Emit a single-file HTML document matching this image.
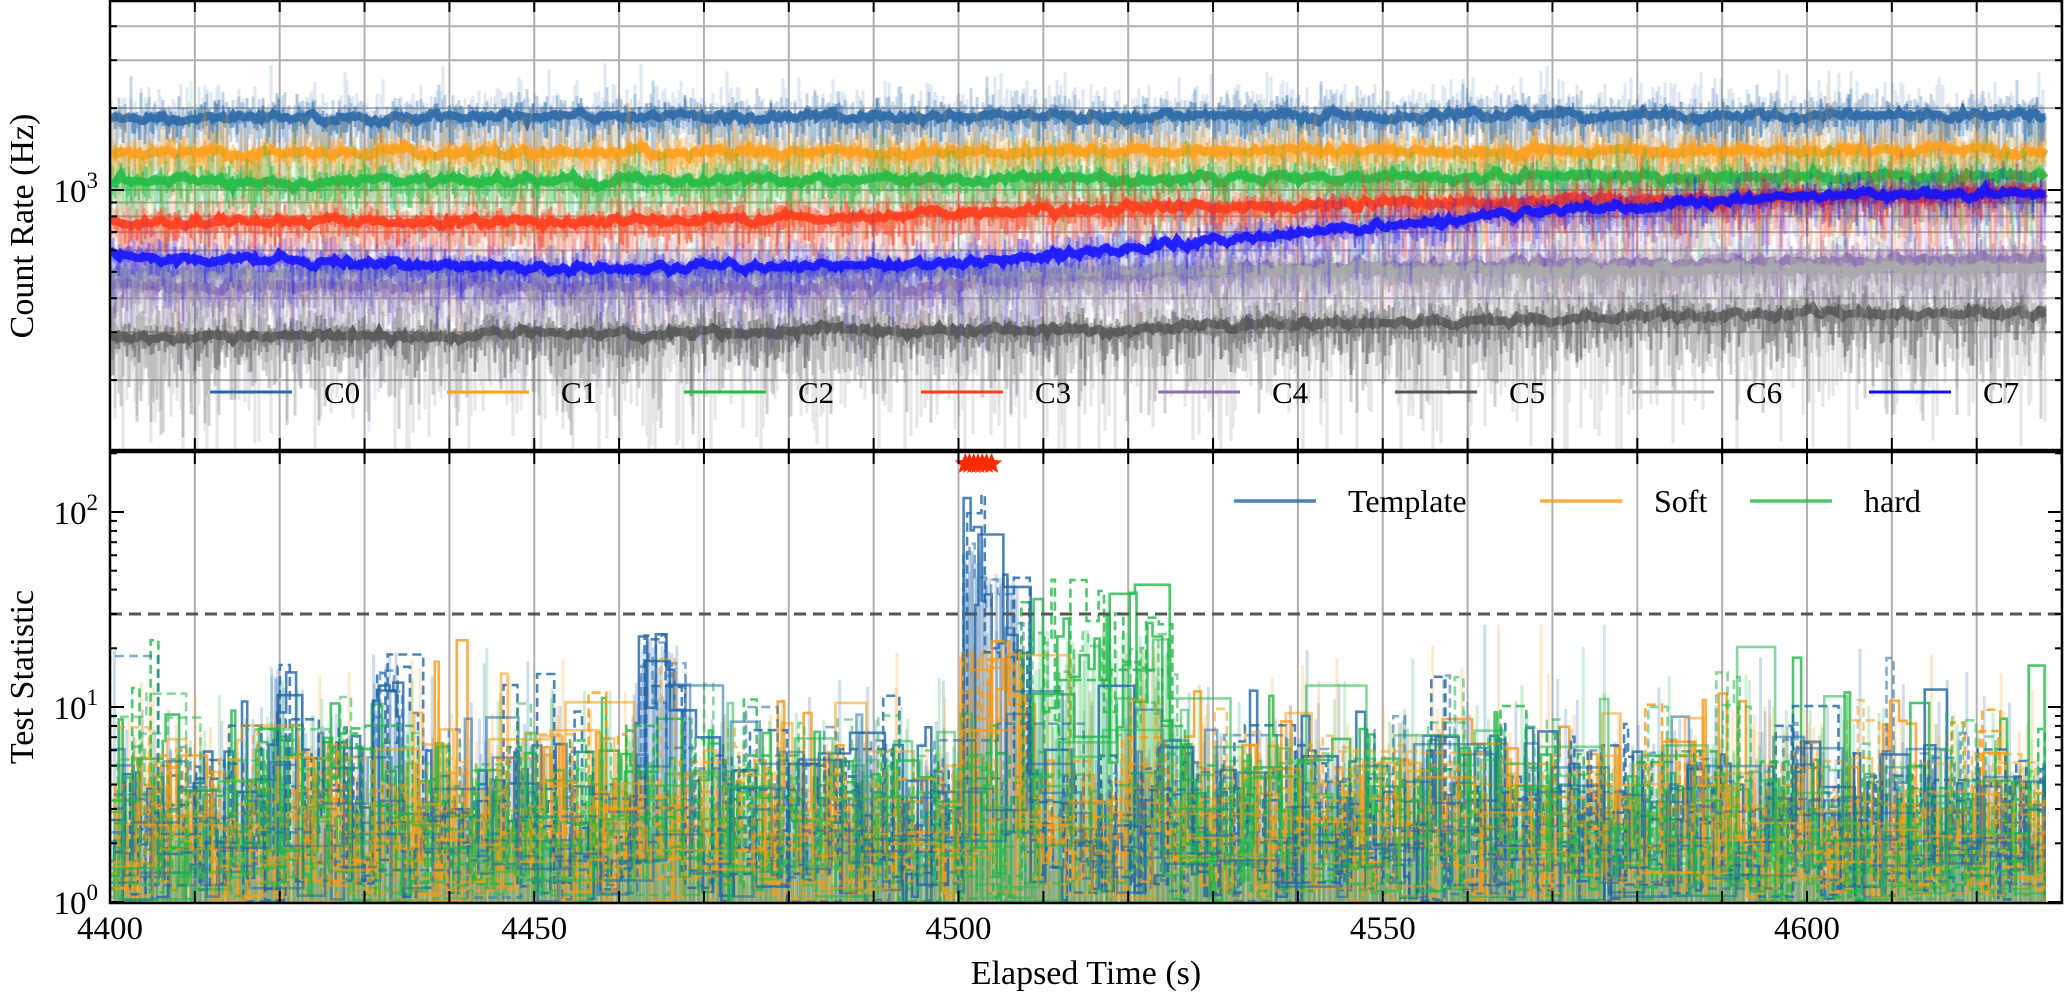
<!DOCTYPE html>
<html><head><meta charset="utf-8"><style>
html,body{margin:0;padding:0;background:#fff;width:2064px;height:997px;overflow:hidden}
svg{display:block}
svg text{font-family:"Liberation Serif","Times New Roman",Times,"DejaVu Serif",serif}
</style></head><body>
<svg id="s" width="2064" height="997" viewBox="0 0 2064 997" xmlns="http://www.w3.org/2000/svg">
<defs>
<clipPath id="ct"><rect x="110" y="1" width="1952" height="449"/></clipPath>
<clipPath id="cb"><rect x="110" y="452" width="1952" height="451"/></clipPath>
</defs>
<g id="g"></g>
</svg>
<script>
(function(){
let seed=12345;
function R(){seed|=0;seed=seed+0x6D2B79F5|0;let t=Math.imul(seed^seed>>>15,1|seed);t=t+Math.imul(t^t>>>7,61|t)^t;return((t^t>>>14)>>>0)/4294967296;}
function N(){let u=R()||1e-9,v=R();return Math.sqrt(-2*Math.log(u))*Math.cos(2*Math.PI*v);}
const F=`style="font-family:'Liberation Serif','Times New Roman',Times,'DejaVu Serif',serif"`;
const X=t=>110+(t-4400)*8.485;
const YT=v=>190-272*Math.log10(v/1000);
const YB=v=>902-195*Math.log10(v);
let o=[];
const L=(x1,y1,x2,y2,c,w,extra)=>o.push(`<line x1="${x1}" y1="${y1}" x2="${x2}" y2="${y2}" stroke="${c}" stroke-width="${w}" ${extra||''}/>`);
o.push('<g clip-path="url(#ct)">');
const hv=[200,300,400,500,600,700,800,900,1000,2000,3000,4000];
hv.forEach(v=>L(110,YT(v),2062,YT(v),'#b0b0b0',2));
for(let t=4400;t<=4630;t+=10)L(X(t),1,X(t),450,'#b0b0b0',2);
const S=[
 ['#2a67a6',[[0,117],[1,115]]],
 ['#ff9f1a',[[0,153],[1,150]]],
 ['#22bb44',[[0,182],[1,176]]],
 ['#ff3b1a',[[0,222],[0.3,220],[0.6,205],[1,193]]],
 ['#8d6db3',[[0,285],[0.4,287],[0.6,268],[1,259]]],
 ['#555555',[[0,337],[0.5,330],[0.8,315],[1,313]]],
 ['#aaaaaa',[[0,273],[1,268]]],
 ['#1010ff',[[0,257],[0.25,268],[0.45,262],[0.75,210],[0.9,195],[1,193]]]
];
function lev(k,f){for(let i=1;i<k.length;i++){if(f<=k[i][0]){const a=k[i-1],b=k[i];return a[1]+(b[1]-a[1])*(f-a[0])/(b[0]-a[0]);}}return k[k.length-1][1];}
const x0=111,x1=2045;
S.forEach((s,si)=>{
 const c=s[0];let m=0;const pts=[];
 for(let x=x0;x<=x1;x+=2){m+=-0.3*m+N()*1.6;pts.push([x,lev(s[1],(x-x0)/(x1-x0))+m]);}
 const dn=si==5?36:(si==7?20:26), up=si==5?16:12;
 for(let layer=0;layer<3;layer++){
  let d='';
  pts.forEach(p=>{const a=p[1]-Math.abs(N())*up*(0.5+layer*0.5),b=p[1]+Math.abs(N())*dn*(0.5+layer*0.6);d+=`M${p[0]} ${a.toFixed(1)}V${b.toFixed(1)}`;});
  o.push(`<path d="${d}" stroke="${c}" stroke-width="3" opacity="${[0.5,0.28,0.15][layer]*(si==7?0.7:1)}" fill="none"/>`);
 }
 let d='M'+pts.map(p=>p[0]+' '+p[1].toFixed(1)).join('L');
 o.push(`<path d="${d}" stroke="${c}" stroke-width="8" opacity="0.85" fill="none"/>`);
});
const lx=[210,447,684,921,1158,1395,1632,1869];
S.forEach((s,i)=>{L(lx[i],392,lx[i]+82,392,s[0],3);o.push(`<text x="${lx[i]+114}" y="403" font-size="31" ${F}>C${i}</text>`);});
o.push('</g>');
o.push('<g clip-path="url(#cb)">');
for(let t=4400;t<=4630;t+=10)L(X(t),452,X(t),903,'#b0b0b0',2);
const BC=['#2166a8','#f99a16','#22b84a'];
function special(ci,t,k){
 if(ci==0){if(t>4500.5&&t<4503)return 30+R()*100*(k<3?1:0.4); if(t>=4503&&t<4507)return 12+R()*38; if(t>4462&&t<4467)return 8+R()*16; if(t>4419&&t<4421)return 6+R()*12; if(t>4431&&t<4434)return 6+R()*13;}
 if(ci==2){if(t>4507&&t<4525)return 5+R()*(k<3?40:20);}
 if(ci==1){if(t>4500&&t<4507)return 5+R()*17;}
 return null;
}
function val(){let l=Math.abs(0.35+N()*0.3);if(R()<0.06)l+=0.3*R();return Math.min(Math.pow(10,l),22);}
for(let layer=0;layer<3;layer++)for(let ci=0;ci<3;ci++){
 const c=BC[ci];let d='';
 for(let t=4400;t<4628;t+=0.35+R()*0.4){let v=special(ci,t,5)||val()*1.2;d+=`M${X(t).toFixed(1)} 903V${YB(v).toFixed(1)}`;}
 o.push(`<path d="${d}" stroke="${c}" stroke-width="3" opacity="0.22" fill="none"/>`);
}
for(let k=0;k<10;k++)for(let ci=0;ci<3;ci++){
 const c=BC[ci];
 let t=4400,d='',first=true;
 const wmax=[1,2,4,6,8,1.5,3,5,7,10][k];
 while(t<4628){
  const w=0.3+R()*wmax;let v=(k<6?special(ci,t,k):null);if(v===null)v=val();
  const y=YB(v).toFixed(1);
  if(first){d+=`M${X(t).toFixed(1)} 903V${y}`;first=false;}else d+=`V${y}`;
  t=Math.min(t+w,4628);d+=`H${X(t).toFixed(1)}`;
 }
 d+='V903';
 const dash=k%2?'stroke-dasharray="9 5"':'';
 o.push(`<path d="${d}" stroke="${c}" stroke-width="2.6" opacity="${k<4?0.8:0.55}" fill="none" ${dash}/>`);
}
L(110,YB(30),2062,YB(30),'#555',3,'stroke-dasharray="12 7"');
o.push('</g>');
function star(cx,cy,r){let p=[];for(let i=0;i<10;i++){const a=-Math.PI/2+i*Math.PI/5,rr=i%2?r*0.45:r;p.push((cx+rr*Math.cos(a)).toFixed(1)+','+(cy+rr*Math.sin(a)).toFixed(1));}o.push(`<polygon points="${p.join(' ')}" fill="#ff2a00"/>`);}
[4500.8,4501.3,4501.8,4502.3,4502.8,4503.3,4503.9].forEach(t=>star(X(t),464,11));
[['Template',1234,BC[0]],['Soft',1540,BC[1]],['hard',1750,BC[2]]].forEach(e=>{L(e[1],501,e[1]+82,501,e[2],3.5,'opacity="0.8"');o.push(`<text x="${e[1]+114}" y="512" font-size="32" ${F}>${e[0]}</text>`);});
o.push('<rect x="110" y="1" width="1952" height="449" fill="none" stroke="#000" stroke-width="2.5"/>');
o.push('<rect x="110" y="452" width="1952" height="451" fill="none" stroke="#000" stroke-width="2.5"/>');
for(let t=4400;t<=4630;t+=10){const x=X(t);L(x,1,x,12,'#000',2);L(x,450,x,438,'#000',2);L(x,452,x,464,'#000',2);L(x,903,x,891,'#000',2);}
for(let t=4400;t<=4600;t+=50)o.push(`<text x="${X(t)}" y="939" font-size="33" text-anchor="middle" ${F}>${t}</text>`);
hv.forEach(v=>{const y=YT(v),l=v==1000?14:7;L(110,y,110+l,y,'#000',2);L(2062,y,2062-l,y,'#000',2);});
for(let d=0;d<3;d++)for(let k=1;k<10;k++){const v=k*Math.pow(10,d);if(v>200)break;const y=YB(v),l=k==1?14:7;if(y<453)continue;L(110,y,110+l,y,'#000',2);L(2062,y,2062-l,y,'#000',2);}
o.push(`<text x="98" y="${YT(1000)+12}" font-size="33" text-anchor="end" ${F}>10<tspan dy="-14" font-size="23">3</tspan></text>`);
[[0,YB(1)],[1,YB(10)],[2,YB(100)]].forEach(e=>o.push(`<text x="98" y="${e[1]+12}" font-size="33" text-anchor="end" ${F}>10<tspan dy="-14" font-size="23">${e[0]}</tspan></text>`));
o.push(`<text transform="translate(33,226) rotate(-90)" font-size="34" text-anchor="middle" ${F}>Count Rate (Hz)</text>`);
o.push(`<text transform="translate(33,677) rotate(-90)" font-size="34" text-anchor="middle" ${F}>Test Statistic</text>`);
o.push(`<text x="1086" y="984" font-size="34" text-anchor="middle" ${F}>Elapsed Time (s)</text>`);
document.getElementById('g').innerHTML=o.join('');
})();
</script>
</body></html>
